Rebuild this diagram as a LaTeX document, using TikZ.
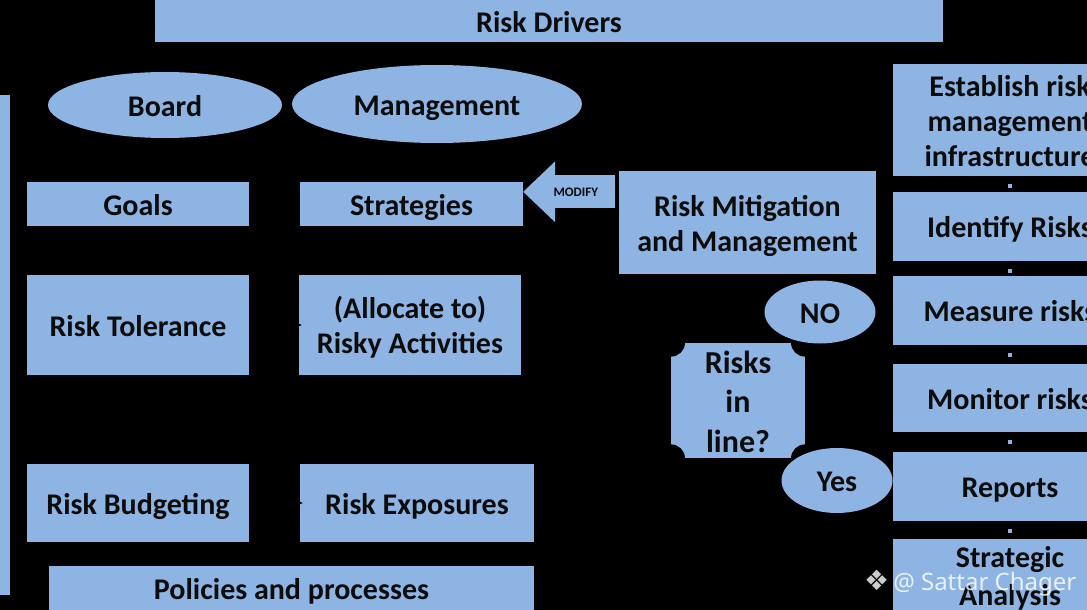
\documentclass[tikz,border=0pt]{standalone}
\usepackage{fontspec}
\setmainfont{Carlito}
\newfontfamily\wmfont{Noto Sans}
\newfontfamily\symfont{DejaVu Sans}
\usetikzlibrary{arrows.meta,calc,shapes.geometric}
\definecolor{boxblue}{RGB}{141,180,226}
\definecolor{ink}{RGB}{12,12,12}
\newcommand\ls{\rule[-0.2em]{0pt}{1.15em}}
\tikzset{
  base/.style={fill=boxblue, text=ink, inner sep=0pt, align=center,
    font=\fontsize{30}{35}\selectfont\bfseries},
  box/.style={base, rectangle},
  rbox/.style={box, minimum width=234pt},
  oval/.style={base, ellipse},
  plaque/.style={path picture={
      \fill[black] (path picture bounding box.north west) circle (14pt);
      \fill[black] (path picture bounding box.north east) circle (14pt);
      \fill[black] (path picture bounding box.south west) circle (14pt);
      \fill[black] (path picture bounding box.south east) circle (14pt);}},
  modarrow/.style={draw=boxblue, line width=33pt, shorten <=4pt,
    -{Triangle[width=61pt,length=32pt,line width=0pt]}},
  modlabel/.style={font=\fontsize{13}{13}\selectfont\bfseries, text=ink, inner sep=0pt},
  hid/.style={draw=black, line width=1pt, -{Stealth[length=7pt,width=6pt]}, shorten >=-3pt},
  rconn/.style={draw=boxblue, line width=4pt, dash pattern=on 0pt off 8pt on 4pt off 300pt}
}
\begin{document}
\begin{tikzpicture}[x=1pt,y=-1pt]
\useasboundingbox (0,0) rectangle (1087,610);
\clip (0,0) rectangle (1087,610);
\fill[black] (0,0) rectangle (1087,610);

\node[box, minimum width=788pt, minimum height=42pt] (drv) at (549,21) {\ls Risk Drivers};
\node[box, minimum width=10pt, minimum height=500pt] (bar) at (5,345) {};
\node[oval, minimum width=234pt, minimum height=66pt] (board) at (165,105) {\ls Board};
\node[oval, minimum width=290pt, minimum height=78pt] (mgmt) at (437,104) {\ls Management};
\node[box, minimum width=222pt, minimum height=44pt] (goals) at (138,204) {\ls Goals};
\node[box, minimum width=223pt, minimum height=44pt] (strat) at (411.5,204) {\ls Strategies};
\node[box, minimum width=222pt, minimum height=100pt] (tol) at (138,325) {\ls Risk Tolerance};
\node[box, minimum width=222pt, minimum height=100pt] (alloc) at (410,325) {\ls (Allocate to)\\\ls Risky Activities};
\node[box, minimum width=222pt, minimum height=78pt] (budg) at (138,503) {\ls Risk Budgeting};
\node[box, minimum width=234pt, minimum height=78pt] (expo) at (417,503) {\ls Risk Exposures};
\node[box, minimum width=485pt, minimum height=44pt] (pol) at (291.5,588) {\ls Policies and processes};

\node[box, minimum width=257pt, minimum height=103pt] (rmm) at (747.5,222.5) {\ls Risk Mitigation\\\ls and Management};
\node[box, plaque, minimum width=134pt, minimum height=113pt,
  font=\fontsize{32}{39.5}\selectfont\bfseries] (q) at (738,400.5) {\ls Risks\\\ls in\\\ls line?};
\node[oval, minimum width=111pt, minimum height=63pt] (no) at (820,312) {\ls NO};
\node[oval, minimum width=111pt, minimum height=65pt] (yes) at (837,480.5) {\ls Yes};

\node[rbox, minimum height=112pt] (est) at (1010,120) {\ls Establish risk\\\ls management\\\ls infrastructure};
\node[rbox, minimum height=69pt] (ide) at (1010,226.5) {\ls Identify Risks};
\node[rbox, minimum height=69pt] (mea) at (1010,310.5) {\ls Measure risks};
\node[rbox, minimum height=68pt] (mon) at (1010,398) {\ls Monitor risks};
\node[rbox, minimum height=69pt] (rep) at (1010,486.5) {\ls Reports};
\node[rbox, minimum height=70pt, font=\fontsize{30}{38}\selectfont\bfseries] (sta) at (1010,575) {\ls Strategic\\\ls Analysis};

% connectors
\draw[modarrow] ($(rmm.north west)+(0,21)$) -- node[modlabel, pos=0.45] {MODIFY} ($(strat.north east)+(0,10)$);
\draw[hid] (tol) -- (alloc);
\draw[hid] (budg) -- (expo);
\draw[rconn] (est) -- (ide);
\draw[rconn] (ide) -- (mea);
\draw[rconn] (mea) -- (mon);
\draw[rconn] (mon) -- (rep);
\draw[rconn] (rep) -- (sta);

% watermark
\node[anchor=west, inner sep=0pt, text=white, text opacity=0.8,
  font=\wmfont\fontsize{24}{24}\selectfont] (wm) at (864,583) {{\symfont\fontsize{28}{28}\selectfont ❖}\kern4pt@ Sattar Chager};
\end{tikzpicture}
\end{document}
